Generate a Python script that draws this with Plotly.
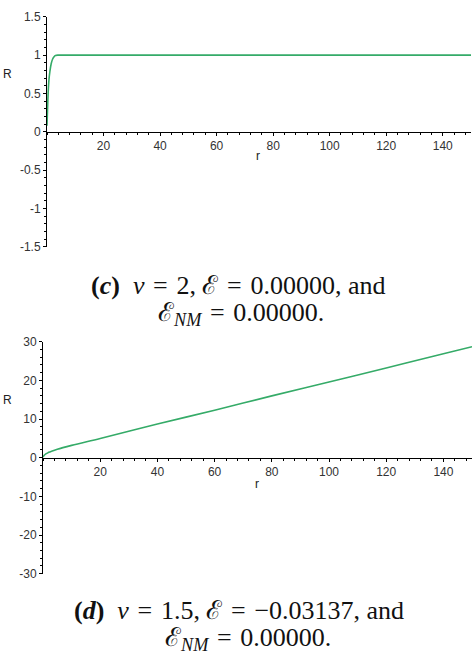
import plotly.graph_objects as go

# panel (c): R rises to 1 almost immediately
r_c = [0, 0.2, 0.4, 0.7, 1.0, 1.5, 2.0, 2.5, 3.0, 4.0, 5.0, 20, 60, 100, 150]
R_c = [0.08, 0.3, 0.5, 0.68, 0.78, 0.89, 0.95, 0.98, 0.995, 1.0, 1.0, 1.0, 1.0, 1.0, 1.0]

# panel (d): R grows roughly linearly
r_d = [0, 0.5, 1, 1.5, 2, 3, 5, 10, 20, 40, 60, 80, 100, 120, 140, 150]
R_d = [0.2, 0.7, 1.0, 1.2, 1.4, 1.7, 2.2, 3.2, 5.0, 8.7, 12.3, 16.0, 19.6, 23.2, 26.9, 28.7]

x_ticks = [20, 40, 60, 80, 100, 120, 140]
y_ticks_c = [-1.5, -1, -0.5, 0, 0.5, 1, 1.5]
y_ticks_d = [-30, -20, -10, 0, 10, 20, 30]

W, H = 474, 660
green = "#35ab68"
tick_font = dict(family="Liberation Sans, Arial", size=12, color="#333")
cap_font = dict(family="Liberation Serif, DejaVu Serif", size=26, color="#111")
EQ = "\u2004=\u2004"  # a bit wider, math-like spacing round "="


def px(x):
    return x / W


def py(y):
    return 1 - y / H


fig = go.Figure()
fig.add_trace(go.Scatter(x=r_c, y=R_c, mode="lines", line=dict(color=green, width=1.6),
                         line_shape="spline", xaxis="x", yaxis="y", showlegend=False))
fig.add_trace(go.Scatter(x=r_d, y=R_d, mode="lines", line=dict(color=green, width=1.6),
                         line_shape="spline", xaxis="x2", yaxis="y2", showlegend=False))

dom_c = [py(245), py(10)]
dom_d = [py(579), py(342)]

common_x = dict(range=[0, 150], tickvals=x_ticks, ticktext=[str(t) for t in x_ticks],
                showline=True, linecolor="black", linewidth=1, ticks="outside",
                ticklen=3, tickcolor="black", showgrid=False, zeroline=False,
                tickfont=tick_font, anchor="free",
                minor=dict(dtick=4, ticks="outside", ticklen=2, tickcolor="black"))
common_y = dict(showline=True, linecolor="black", linewidth=1, ticks="outside",
                ticklen=3, tickcolor="black", showgrid=False, zeroline=False,
                tickfont=tick_font)

fig.update_layout(
    width=W, height=H, margin=dict(l=0, r=0, t=0, b=0),
    paper_bgcolor="white", plot_bgcolor="white",
    xaxis=dict(common_x, domain=[px(47), px(471)], position=sum(dom_c) / 2),
    yaxis=dict(common_y, domain=dom_c, range=[-1.5, 1.5], anchor="x",
               tickvals=y_ticks_c, ticktext=["%g" % t for t in y_ticks_c],
               minor=dict(dtick=0.1, ticks="outside", ticklen=2, tickcolor="black")),
    xaxis2=dict(common_x, domain=[px(43), px(472)], position=sum(dom_d) / 2),
    yaxis2=dict(common_y, domain=dom_d, range=[-30, 30], anchor="x2",
                tickvals=y_ticks_d, ticktext=["%g" % t for t in y_ticks_d],
                minor=dict(dtick=2, ticks="outside", ticklen=2, tickcolor="black")),
)

small = dict(family="Liberation Sans, Arial", size=12, color="#222")
ann = [
    dict(x=px(7), y=py(68), text="R", font=small),
    dict(x=px(258), y=py(152), text="r", font=small),
    dict(x=px(7), y=py(402), text="R", font=small),
    dict(x=px(257), y=py(487), text="r", font=small),
    dict(x=px(238), y=py(285),
         text="<b>(<i>c</i>)</b>\u2002<i>v</i>" + EQ + "2, ℰ" + EQ + "0.00000, and", font=cap_font),
    dict(x=px(241), y=py(314), text="ℰ<sub><i>NM</i></sub>" + EQ + "0.00000.", font=cap_font),
    dict(x=px(239), y=py(617),
         text="<b>(<i>d</i>)</b>\u2002<i>v</i>" + EQ + "1.5, ℰ" + EQ + "−0.03137, and", font=cap_font),
    dict(x=px(248), y=py(646), text="ℰ<sub><i>NM</i></sub>" + EQ + "0.00000.", font=cap_font),
]
for a in ann:
    fig.add_annotation(xref="paper", yref="paper", showarrow=False,
                       xanchor="center", yanchor="middle", **a)

# drop the browser's default page margin so the figure sits at the window corner
fig.write_html("out.html", config={"displayModeBar": False},
               post_script="document.body.style.margin='0';")
